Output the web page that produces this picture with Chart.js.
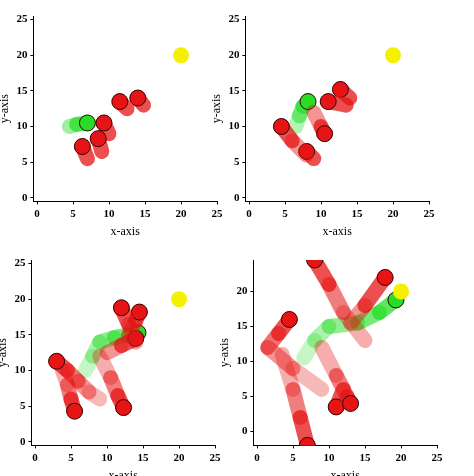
<!DOCTYPE html>
<html><head><meta charset="utf-8">
<script src="https://cdn.jsdelivr.net/npm/chart.js@4"></script>
<style>
body{margin:0;background:#fff;width:474px;height:476px;position:relative;overflow:hidden}
.p{position:absolute;width:240px;height:240px}
</style></head><body>
<div class="p" style="left:-5px;top:2px"><canvas id="c0"></canvas></div>
<div class="p" style="left:207px;top:2px"><canvas id="c1"></canvas></div>
<div class="p" style="left:-7px;top:246px"><canvas id="c2"></canvas></div>
<div class="p" style="left:215px;top:246px"><canvas id="c3"></canvas></div>
<script>
const tickValues=[0,5,10,15,20,25];
const goal={x:20,y:20};
// each panel: green trail, red trails (oldest -> newest)
const greens=[
 [[4.5,10],[5.5,10.3],[7,10.5]],
 [[6.5,10],[7,11.5],[7.5,12.8],[8.2,13.5]],
 [[7,10],[8,12],[9,14],[11,14.6],[13,15],[14.3,15.3]],
 [[6.5,10.5],[8,13],[10,15],[14,15.5],[17,17],[19.3,18.8]]
];
const reds=[
 [[[7,5.5],[6.3,7.2]],[[9,6.5],[8.5,8.3]],[[10,9],[9.3,10.5]],[[12.5,12.5],[11.5,13.5]],[[14.8,13],[14,14]]],
 [[[8,6],[6,8],[4.5,10]],[[9,5.5],[8,6.5]],[[9,12],[10,10],[10.5,9]],[[13.5,13],[11,13.5]],[[14,14],[12.7,15.2]]],
 [[[9,6],[7.5,7],[6,8.5],[4.5,10],[3,11.3]],[[3.8,10],[4.5,8],[5,6],[5.5,4.3]],[[9,12],[10.5,9],[11.5,6.5],[12.3,4.8]],[[14,14],[13,16.5],[12,18.8]],[[13,15],[14,17],[14.5,18.2]],[[10,12.5],[12,13.5],[14,14.5]]],
 [[[9,6],[5,9],[1.5,12],[3,14],[4.5,16]],[[3.5,11],[5,6],[6,2],[7,-2]],[[15,13],[12,17],[10,21],[8,24.5]],[[13,15.5],[15,18],[17.8,22]],[[9,12],[11,8],[12.5,5],[13,4]],[[12,6],[11,3.5]]]
];
const yMin=[-0.5,-0.5,-0.5,-2];
const yMax=[25.5,25.5,25.5,24.5];

function trail(pts,rgb){
  const n=pts.length;
  return {
    data:pts.map(p=>({x:p[0],y:p[1]})),
    showLine:true,borderWidth:15,borderCapStyle:'round',borderJoinStyle:'round',
    segment:{borderColor:c=>`rgba(${rgb},${(0.15+0.6*(c.p1DataIndex)/(n-1)).toFixed(2)})`},
    pointRadius:c=>c.dataIndex===n-1?8:0,
    pointBackgroundColor:`rgb(${rgb})`,pointBorderColor:'#300',pointBorderWidth:1,
    order:1
  };
}
const font={family:'Liberation Serif',size:11,weight:'bold'};
for(let i=0;i<4;i++){
  const ds=[];
  reds[i].forEach(t=>ds.push(trail(t,'230,20,20')));
  ds.push(trail(greens[i],'40,220,40'));
  ds.push({data:[goal],pointRadius:8,pointBackgroundColor:'#f5f000',pointBorderWidth:0,order:0});
  const ax=(title,min,max)=>({type:'linear',min,max,
    afterBuildTicks:s=>{s.ticks=tickValues.filter(v=>v>=min&&v<=max).map(v=>({value:v}));},
    ticks:{font,color:'#000',padding:3},
    grid:{drawOnChartArea:false,drawTicks:true,tickLength:3,color:'#000'},
    border:{display:true,color:'#000',width:1},
    title:{display:true,text:title,font:{family:'Liberation Serif',size:12},color:'#000',padding:1}});
  new Chart(document.getElementById('c'+i),{type:'scatter',data:{datasets:ds},
    options:{animation:false,responsive:true,maintainAspectRatio:false,
      plugins:{legend:{display:false},tooltip:{enabled:false}},
      layout:{padding:{top:14,right:18,left:2,bottom:2}},
      scales:{x:ax('x-axis',-0.5,25),y:ax('y-axis',yMin[i],yMax[i])}}});
}
</script></body></html>
